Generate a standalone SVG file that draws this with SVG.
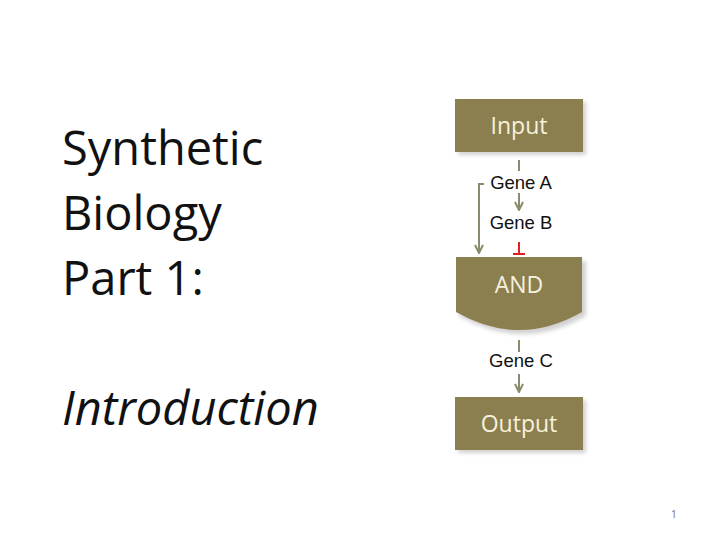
<svg xmlns="http://www.w3.org/2000/svg" width="720" height="540" viewBox="0 0 720 540">
<defs>
<style>
.title{font-family:"Open Sans","Liberation Sans",sans-serif;font-size:47px;fill:#111}
.box{fill:#8b7f50}
.shadow{fill:#000;opacity:0.18;filter:url(#blur)}
.lbl{font-family:"Open Sans","Liberation Sans",sans-serif;font-size:23px;fill:#f6f1dc;text-anchor:middle}
.gene{font-family:"Liberation Sans",Arial,sans-serif;font-size:18.5px;fill:#111;text-anchor:middle}
.conn{stroke:#8a8a6c;stroke-width:2;fill:none}
</style>
<filter id="blur" x="-20%" y="-20%" width="140%" height="140%"><feGaussianBlur stdDeviation="2"/></filter>
<marker id="arr" viewBox="0 0 10 10" refX="9" refY="5" markerWidth="5" markerHeight="5" orient="auto" markerUnits="strokeWidth">
<path d="M1,1 L9,5 L1,9" fill="none" stroke="#8a8a6c" stroke-width="2"/>
</marker>
</defs>
<rect width="720" height="540" fill="#fff"/>
<g id="title">
<text class="title" x="62" y="165">Synthetic</text>
<text class="title" x="62" y="230">Biology</text>
<text class="title" x="62" y="295">Part 1:</text>
<text class="title" x="62" y="425" font-style="italic" font-size="50.5">Introduction</text>
</g>
<g id="input">
<rect class="shadow" x="458" y="102" width="128" height="53"/>
<rect class="box" x="455" y="99" width="128" height="53"/>
<text class="lbl" x="519" y="134">Input</text>
</g>
<g id="and">
<path class="shadow" d="M459,261 H586 V316 Q522,352 459,316 Z"/>
<path class="box" d="M456,257 H582 V312 Q519,348 456,312 Z"/>
<text class="lbl" x="519" y="293">AND</text>
</g>
<g id="output">
<rect class="shadow" x="458" y="400" width="128" height="53"/>
<rect class="box" x="455" y="397" width="128" height="53"/>
<text class="lbl" x="519" y="432">Output</text>
</g>
<g id="labels">
<text class="gene" x="521" y="189">Gene A</text>
<text class="gene" x="521" y="229">Gene B</text>
<text class="gene" x="521" y="367">Gene C</text>
</g>
<g id="connectors">
<line class="conn" x1="519" y1="160" x2="519" y2="171"/>
<line class="conn" x1="519" y1="193" x2="519" y2="210" marker-end="url(#arr)"/>
<path class="conn" d="M484,184 H479 V253" marker-end="url(#arr)"/>
<line x1="519" y1="242" x2="519" y2="254" stroke="#e0201c" stroke-width="2"/>
<line x1="513" y1="254" x2="525" y2="254" stroke="#e0201c" stroke-width="2"/>
<line class="conn" x1="519" y1="340" x2="519" y2="352"/>
<line class="conn" x1="519" y1="374" x2="519" y2="392" marker-end="url(#arr)"/>
</g>
<text x="674" y="518" font-family="'Open Sans','Liberation Sans',sans-serif" font-size="11" fill="#777" text-anchor="middle">1</text>
</svg>
